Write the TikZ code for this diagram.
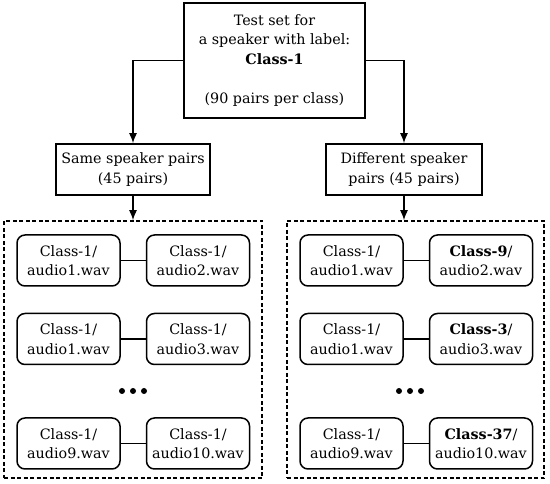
\documentclass[tikz,border=0pt]{standalone}
\usepackage{fontspec}
\setmainfont{DejaVu Serif}
\usepackage{tikz}
\usetikzlibrary{positioning}
\usetikzlibrary{arrows.meta}

\begin{document}
\begin{tikzpicture}[x=1pt,y=-1pt,line width=1.5pt,
    every node/.style={font=\fontsize{14.3}{19.5}\selectfont, align=center},
    headbox/.style={draw, inner sep=0pt, minimum height=51pt},
    filebox/.style={draw, rounded corners=8pt, inner sep=0pt,
                    minimum width=103pt, minimum height=51pt},
    groupbox/.style={draw, dash pattern=on 4pt off 2.5pt, inner sep=0pt,
                     minimum width=257pt, minimum height=257pt},
    tip/.style={-{Latex[length=10pt,width=8pt]}}]
\useasboundingbox (0,0) rectangle (550,484);

\node[draw,
      inner sep=0pt,
      minimum width=181pt,
      minimum height=115pt
     ]
     (testSet) at (274.5,60.5) {Test set for\\a speaker with label:\\\textbf{Class-1}\\[19.5pt](90 pairs per class)};
\node[headbox, minimum width=154pt] (samePairs) at (133,169.5) {Same speaker pairs\\(45 pairs)};
\node[headbox, minimum width=156pt] (diffPairs) at (404,169.5) {Different speaker\\pairs (45 pairs)};

% dashed groups
\node[groupbox, minimum width=258pt] (sameGroup) at (133,349.5) {};
\node[groupbox] (diffGroup) at (415.5,349.5) {};

% same speaker pairs
\node[filebox] (sameLeft1) at (68.5,260.5) {Class-1/\\audio1.wav};
\node[filebox, right=25pt of sameLeft1] (sameRight1) {Class-1/\\audio2.wav};
\node[filebox, below=26pt of sameLeft1] (sameLeft2) {Class-1/\\audio1.wav};
\node[filebox, right=25pt of sameLeft2] (sameRight2) {Class-1/\\audio3.wav};
\node[filebox, below=52pt of sameLeft2] (sameLeft3) {Class-1/\\audio9.wav};
\node[filebox, right=25pt of sameLeft3] (sameRight3) {Class-1/\\audio10.wav};

% different speaker pairs
\node[filebox] (diffLeft1) at (351.5,260.5) {Class-1/\\audio1.wav};
\node[filebox, right=25pt of diffLeft1] (diffRight1) {\textbf{Class-9}/\\audio2.wav};
\node[filebox, below=26pt of diffLeft1] (diffLeft2) {Class-1/\\audio1.wav};
\node[filebox, right=25pt of diffLeft2] (diffRight2) {\textbf{Class-3}/\\audio3.wav};
\node[filebox, below=52pt of diffLeft2] (diffLeft3) {Class-1/\\audio9.wav};
\node[filebox, right=25pt of diffLeft3] (diffRight3) {\textbf{Class-37}/\\audio10.wav};

% arrows
\draw[tip] (testSet.west) -| (samePairs.north);
\draw[tip] (testSet.east) -| (diffPairs.north);
\draw[tip] (samePairs.south) -- (sameGroup.north -| samePairs.south);
\draw[tip] (diffPairs.south) -- (diffGroup.north -| diffPairs.south);

% pair links
\foreach \row in {1,2,3} {
  \draw (sameLeft\row.east) -- (sameRight\row.west);
  \draw (diffLeft\row.east) -- (diffRight\row.west);
}

% dots
\foreach \x in {-11,0,11} {
  \fill (133+\x,391) circle (3pt);
  \fill (410+\x,391) circle (3pt);
}
\end{tikzpicture}
\end{document}
